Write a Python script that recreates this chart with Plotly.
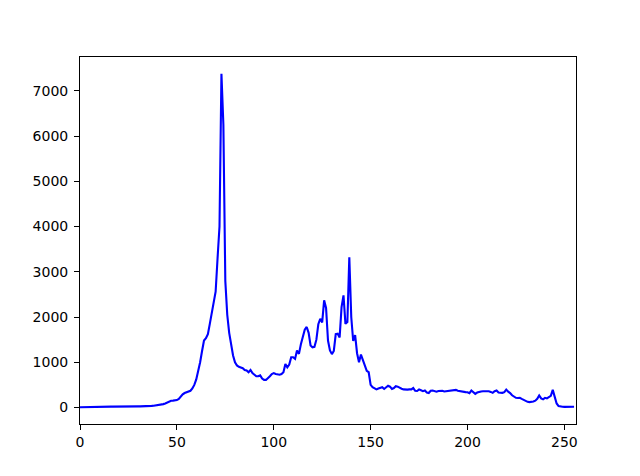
import plotly.graph_objects as go

# histogram counts for intensity levels 0..255
counts = [
    4, 6, 8, 9, 10, 11, 12, 13, 15, 18,
    20, 22, 24, 25, 24, 22, 20, 19, 18, 18,
    19, 20, 21, 20, 20, 21, 22, 21, 20, 22,
    24, 25, 24, 26, 28, 30, 33, 36, 40, 44,
    48, 55, 62, 75, 90, 115, 140, 150, 152, 155,
    165, 190, 250, 290, 320, 340, 345, 370, 420, 500,
    620, 800, 1000, 1250, 1480, 1530, 1620, 1850, 2100, 2400,
    2560, 3300, 4000, 7380, 6250, 2800, 2050, 1650, 1350, 1150,
    1000, 930, 900, 880, 870, 830, 820, 780, 830, 760,
    720, 690, 690, 710, 640, 610, 610, 640, 690, 740,
    760, 740, 725, 725, 740, 780, 960, 890, 950, 1110,
    1110, 1075, 1260, 1185, 1400, 1550, 1720, 1780, 1650, 1370,
    1330, 1340, 1500, 1840, 1960, 1880, 2370, 2200, 1480, 1260,
    1180, 1250, 1620, 1630, 1550, 2220, 2480, 1850, 1890, 3320,
    2000, 1470, 1600, 1200, 1000, 1170, 1040, 900, 810, 780,
    500, 450, 430, 400, 420, 440, 450, 410, 440, 480,
    460, 410, 430, 470, 460, 430, 415, 400, 390, 395,
    400, 400, 430, 370, 365, 400, 380, 360, 375, 330,
    320, 370, 375, 355, 350, 365, 375, 370, 355, 360,
    365, 375, 385, 395, 390, 370, 360, 350, 345, 340,
    338, 316, 375, 340, 302, 330, 350, 355, 358, 360,
    365, 360, 345, 324, 360, 375, 330, 324, 324, 340,
    397, 350, 320, 270, 243, 214, 210, 214, 190, 165,
    140, 125, 118, 120, 132, 150, 191, 265, 200, 180,
    214, 200, 228, 260, 390, 228, 90, 30, 18, 15,
    14, 14, 14, 14, 15, 16,
]
levels = list(range(len(counts)))
x_ticks = [0, 50, 100, 150, 200, 250]
y_ticks = [0, 1000, 2000, 3000, 4000, 5000, 6000, 7000]

ymin, ymax = min(counts), max(counts)
pad = 0.05 * (ymax - ymin)

fig = go.Figure(go.Scatter(x=levels, y=counts, mode="lines",
                           line=dict(color="#0000ff", width=2.1),
                           hoverinfo="skip"))

axis_common = dict(showline=True, mirror=True, linecolor="black", linewidth=1.1,
                   ticks="outside", ticklen=4.9, tickwidth=1.1, tickcolor="black",
                   showgrid=False, zeroline=False,
                   tickfont=dict(family="DejaVu Sans", size=14, color="black"))

# page body adds an 8px offset, so the figure is sized to compensate
fig.update_layout(
    width=632, height=468,
    margin=dict(l=72, r=64, t=49, b=52),
    paper_bgcolor="white", plot_bgcolor="white",
    showlegend=False,
    xaxis=dict(range=[0, 256], tickvals=x_ticks, ticklabelstandoff=0, **axis_common),
    yaxis=dict(range=[ymin - pad, ymax + pad], tickvals=y_ticks, ticklabelstandoff=3, **axis_common),
)

fig.write_html("out.html")
